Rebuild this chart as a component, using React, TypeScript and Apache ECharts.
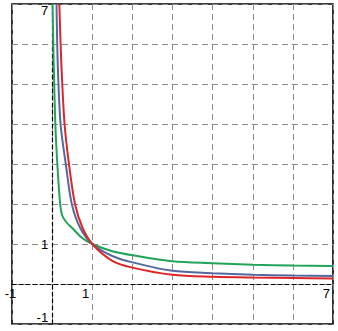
import React, { useEffect, useRef } from "react";
import * as echarts from "echarts";

// Axis settings and visible tick labels
const axisMin = -1;
const axisMax = 7;
const xLabelValues = [-1, 1, 7];
const yLabelValues = [-1, 1, 7];

// Curves: [x, y]
const greenCurve: [number, number][] = [
  [0.01, 7], [0.04, 5.5], [0.08, 4], [0.13, 3], [0.2, 2.0], [0.25, 1.72], [0.35, 1.55],
  [0.5, 1.4], [0.75, 1.15], [1, 1], [1.5, 0.82], [2, 0.72], [3, 0.57], [4, 0.52],
  [5, 0.48], [6, 0.46], [7, 0.45],
];
const blueCurve: [number, number][] = [
  [0.11, 7], [0.14, 5.5], [0.21, 4], [0.34, 3], [0.49, 2], [0.7, 1.4], [1, 1],
  [1.5, 0.7], [2, 0.54], [3, 0.33], [4, 0.27], [5, 0.23], [6, 0.21], [7, 0.2],
];
const redCurve: [number, number][] = [
  [0.18, 7], [0.23, 5.5], [0.31, 4], [0.42, 3], [0.57, 2], [0.76, 1.4], [1, 1],
  [1.5, 0.58], [2, 0.41], [3, 0.23], [4, 0.18], [5, 0.16], [6, 0.15], [7, 0.14],
];

const seriesColors = ["#22a35a", "#55699e", "#dd2629"];

const gridLeft = 12;
const gridTop = 4;
const gridWidth = 321;
const gridHeight = 320;

export default function App() {
  const ref = useRef<HTMLDivElement>(null);
  useEffect(() => {
    if (!ref.current) return;
    const chart = echarts.init(ref.current, null, { renderer: "svg" });
    const gridLine = { show: true, lineStyle: { color: "#8a8a8a", type: [6, 4], width: 1 } };
    const zeroFracX = (0 - axisMin) / (axisMax - axisMin);
    const zeroFracY = (0 - axisMin) / (axisMax - axisMin);
    const mk = (data: [number, number][], color: string) => ({
      type: "line",
      data,
      smooth: 0.3,
      showSymbol: false,
      symbol: "none",
      clip: true,
      lineStyle: { color, width: 2 },
      itemStyle: { color },
      z: 3,
    });
    const labelFont = { color: "#000", fontSize: 13, fontFamily: "Liberation Sans, Arial, sans-serif" };
    chart.setOption({
      animation: false,
      backgroundColor: "#fff",
      grid: {
        left: gridLeft, top: gridTop, width: gridWidth, height: gridHeight,
        show: true, borderColor: "#000", borderWidth: 1.6, backgroundColor: "transparent",
        containLabel: false, outerBoundsMode: "none",
      },
      xAxis: {
        type: "value", min: axisMin, max: axisMax, interval: 1,
        offset: -zeroFracY * gridHeight,
        axisLine: { show: true, onZero: false, lineStyle: { color: "#000", type: [4, 3], width: 1.2 } },
        axisTick: { show: false },
        splitLine: gridLine,
        axisLabel: {
          show: true, margin: 3, align: "right", verticalAlign: "top",
          padding: [0, 3, 0, 0],
          alignMinLabel: "center", ...labelFont,
          formatter: (v: number) => (xLabelValues.includes(v) ? String(v) : ""),
        },
        z: 2,
      },
      yAxis: {
        type: "value", min: axisMin, max: axisMax, interval: 1,
        offset: -zeroFracX * gridWidth,
        axisLine: { show: true, onZero: false, lineStyle: { color: "#000", type: [4, 3], width: 1.2 } },
        axisTick: { show: false },
        splitLine: gridLine,
        axisLabel: {
          show: true, margin: 4, align: "right", verticalAlign: "middle",
          verticalAlignMinLabel: "bottom", verticalAlignMaxLabel: "top", ...labelFont,
          formatter: (v: number) => (yLabelValues.includes(v) ? String(v) : ""),
        },
        z: 2,
      },
      series: [
        mk(greenCurve, seriesColors[0]),
        mk(blueCurve, seriesColors[1]),
        mk(redCurve, seriesColors[2]),
      ],
    });
    return () => chart.dispose();
  }, []);
  return (
    <div
      ref={ref}
      style={{ position: "fixed", left: 0, top: 0, width: 338, height: 331, background: "#fff" }}
    />
  );
}
